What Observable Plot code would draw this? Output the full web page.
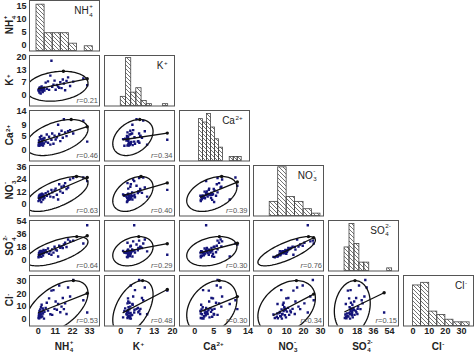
<!DOCTYPE html>
<html><head><meta charset="utf-8">
<script src="https://cdn.jsdelivr.net/npm/d3@7"></script>
<script src="https://cdn.jsdelivr.net/npm/@observablehq/plot@0.6"></script>
<style>
body{margin:0;background:#fff;font-family:"Liberation Sans",Arial,sans-serif}
#chart{position:relative;width:474px;height:354px;overflow:hidden;background:#fff}
.lab{position:absolute;white-space:nowrap;color:#222;line-height:1}
.ss{position:relative;display:inline-block;width:0.42em;height:0.7em}
.ss.w{width:0.72em}
.ss .u{position:absolute;left:0.5px;top:-0.58em;font-size:0.62em;line-height:1}
.ss .d{position:absolute;left:0.5px;top:0.75em;font-size:0.62em;line-height:1}
.sp{font-size:0.62em;position:relative;top:-0.55em;margin-left:0.5px}
.ttl{font-weight:bold;font-size:10px}
.dg{font-size:10px;color:#222}
.rl{font-size:7.5px;color:#555}
</style></head><body>
<svg width="0" height="0" style="position:absolute"><defs>
<pattern id="hatch" patternUnits="userSpaceOnUse" width="4" height="4">
<path d="M0,0 L4,4 M-1,3 L1,5 M3,-1 L5,1" stroke="#444" stroke-width="0.75" fill="none"/>
</pattern></defs></svg>
<div id="chart"></div>
<script>
// ---- sample values (one entry per sample) ----
const NH4 = [0.2,0.4,0.5,0.7,0.8,1.0,1.1,1.3,1.5,1.6,1.8,2.0,2.2,2.4,2.6,2.9,3.1,3.4,3.7,4.0,4.8,5.5,6.3,7.0,7.8,8.5,9.0,9.8,10.5,11.2,12.0,12.8,13.5,14.2,15.0,15.8,16.5,17.3,18.2,19.2,20.5,22.5,29.0,31.5];
const K   = [2.6,3.1,2.2,3.5,1.4,4.1,2.8,3.3,3.8,0.9,3.0,2.4,4.6,2.9,3.6,1.7,3.2,2.7,3.9,2.5,6.6,3.4,7.2,2.8,10.2,18.0,4.4,5.5,7.6,2.9,5.3,4.5,3.9,6.8,3.7,8.2,6.1,2.6,7.5,9.3,4.8,7.1,8.7,5.2];
const Ca  = [1.6,2.4,3.4,1.9,1.5,2.9,4.6,1.8,2.7,3.9,2.1,5.1,1.7,3.3,2.5,4.1,1.6,3.6,2.3,4.3,3.0,5.6,2.6,4.8,1.9,3.7,6.0,2.2,5.2,3.8,4.6,9.2,5.8,3.2,7.0,4.4,11.2,6.4,5.0,6.8,7.2,6.0,10.7,3.0];
const NO3 = [3.0,6.2,7.5,4.8,8.2,9.0,4.2,7.0,5.8,9.6,8.6,2.2,7.8,10.2,6.6,8.8,4.5,9.4,7.2,6.0,10.8,8.2,12.2,9.8,7.4,14.0,11.5,6.8,13.5,15.2,9.2,4.6,19.5,12.5,17.0,11.0,18.0,20.5,14.8,16.2,24.0,25.5,26.0,22.5];
const SO4 = [4.2,7.0,9.8,6.0,10.5,12.0,5.5,11.2,9.2,13.0,9.5,4.8,12.6,11.8,8.2,10.8,6.5,14.2,10.0,12.4,13.8,11.0,16.2,9.0,12.2,7.6,15.0,10.6,18.5,14.6,13.4,5.3,20.0,17.0,19.0,16.8,21.6,24.0,18.2,28.5,26.0,27.0,23.0,48.0];
const Cl  = [1.0,2.5,4.2,0.8,6.5,3.2,2.0,7.8,5.0,1.5,9.5,3.8,11.5,6.0,2.2,8.6,4.6,7.2,0.5,5.8,9.0,13.0,6.8,16.5,4.0,22.6,3.5,23.0,8.2,14.0,7.5,12.0,26.6,5.5,10.0,16.8,8.0,12.5,4.2,25.0,18.0,31.0,15.0,5.3];

// ---- correlation labels (row variable vs earlier columns) ----
const rK   = [0.21];
const rCa  = [0.46,0.34];
const rNO3 = [0.63,0.40,0.39];
const rSO4 = [0.64,0.29,0.30,0.76];
const rCl  = [0.53,0.48,0.30,0.34,0.15];

// ---- ellipse centre / half-extent per variable ----
const ellCenter = [12, 4.7, 4.5, 10, 12.5, 9.5];
const ellHalf   = [20, 7.8, 6.6, 17, 20, 21];

// ---- histograms: bin starts, bin widths, bar tops (count axis units) ----
const histStartNH4 = [-1.1,4.1,9.3,14.5,19.7,29.9], histTopNH4 = [15.4,4.5,4.5,4.5,0.5,-0.5];
const histStartK   = [0,2,4,6,8,10,16.3],          histTopK   = [1.2,16.0,2.8,4.5,-0.4,-1.6,-1.6];
const histStartCa  = [1.15,2.2,3.25,4.3,5.35,6.4,9.2,10.25,11.3], histTopCa = [13.7,12.4,15.7,10.5,6.0,2.8,-0.8,-0.8,-0.8];
const histStartNO3 = [0,5,10,15,20,25],            histTopNO3 = [3.1,16.3,5.0,3.1,0.3,-1.4];
const histStartSO4 = [3.9,9.4,14.9,20.4,25.9,51.4],histTopSO4 = [6.7,15.7,8.0,0.9,0.9,-1.3];
const histStartCl  = [0,5,10,15,20,25,30],         histTopCl  = [13.2,14.2,3.2,1.9,0.1,-0.9,-0.9];
const histWidth = [5.2,2.05,1.05,5,5.5,5];
const histTicks = [0,5,10,15];

// ---- axis ticks ----
const xTickNH4=[0,11,22,33], xTickK=[0,7,13,20], xTickCa=[0,5,9,14], xTickNO3=[0,10,20,30], xTickSO4=[0,18,36,54], xTickCl=[0,10,20,30];
const yTickK=[0,7,13,20], yTickCa=[0,5,9,14], yTickNO3=[0,12,24,36], yTickSO4=[0,18,36,54], yTickCl=[0,10,20,30];

const names = ["NH4","K","Ca","NO3","SO4","Cl"];
const labelsHTML = [
  'NH<span class="ss"><span class="u">+</span><span class="d">4</span></span>',
  'K<span class="sp">+</span>',
  'Ca<span class="sp">2+</span>',
  'NO<span class="ss"><span class="u">-</span><span class="d">3</span></span>',
  'SO<span class="ss w"><span class="u">2-</span><span class="d">4</span></span>',
  'Cl<span class="sp">-</span>'
];
const values = [NH4,K,Ca,NO3,SO4,Cl];
const rRows = [[],rK,rCa,rNO3,rSO4,rCl];
const hists = [[histStartNH4,histTopNH4],[histStartK,histTopK],[histStartCa,histTopCa],[histStartNO3,histTopNO3],[histStartSO4,histTopSO4],[histStartCl,histTopCl]];
const xTicks = [xTickNH4,xTickK,xTickCa,xTickNO3,xTickSO4,xTickCl];
const yTicks = [histTicks,yTickK,yTickCa,yTickNO3,yTickSO4,yTickCl];

// ---- layout (pixels / scale domains) ----
const colLeft = [29,103.5,178.5,253,328,403];
const rowTop  = [0,54.5,109.5,164.5,219.5,274.5];
const PW = 70, PH = 50.5;
const xDomain = [[-5.6,39.4],[-6.3,20.8],[-4.0,14.4],[-9.6,31.8],[-14,64],[-5.9,37.4]];
const yDomain = [[-2.3,17],[-5.6,20.7],[-4.1,14.4],[-11.5,37.7],[-14.6,54.5],[-5.3,34.5]];
const histDomain = [-2.3,17];

const samples = NH4.map((_,k)=>Object.fromEntries(names.map((n,v)=>[n,values[v][k]])));
const chart = document.getElementById("chart");

function addLabel(html, cls, style){
  const d = document.createElement("div");
  d.className = "lab " + cls;
  d.innerHTML = html;
  Object.assign(d.style, style);
  chart.appendChild(d);
  return d;
}

for (let i=0;i<6;i++){
  for (let j=0;j<=i;j++){
    const isLeft = j===0, isBottom = i===5;
    const ml = isLeft ? colLeft[0] : 1;
    const mb = isBottom ? 18 : 1;
    const marks = [];
    let ydom;
    if (i===j){
      ydom = histDomain;
      const [starts, tops] = hists[j];
      const bars = starts.map((s,k)=>({x1:s, x2:s+histWidth[j], top:tops[k]}));
      marks.push(Plot.rect(bars,{x1:"x1",x2:"x2",y1:histDomain[0],y2:"top",fill:"url(#hatch)",stroke:"#444",strokeWidth:0.8}));
    } else {
      ydom = yDomain[i];
      const xn = names[j], yn = names[i];
      const r = rRows[i][j];
      // regression line from the data
      const xs = values[j], ys = values[i];
      const mx = d3.mean(xs), my = d3.mean(ys);
      const slope = d3.sum(xs,(x,k)=>(x-mx)*(ys[k]-my)) / d3.sum(xs,x=>(x-mx)**2);
      const [xmin,xmax] = d3.extent(xs);
      const reg = [{x:xmin,y:my+slope*(xmin-mx)},{x:xmax,y:my+slope*(xmax-mx)}];
      // correlation ellipse starting at its top point
      const dphi = Math.acos(r);
      const ell = d3.range(0,97).map(k=>{
        const t = -dphi + k*2*Math.PI/96;
        return {x: ellCenter[j] + ellHalf[j]*Math.cos(t), y: ellCenter[i] + ellHalf[i]*Math.cos(t+dphi)};
      });
      marks.push(Plot.dot(samples,{x:xn,y:yn,symbol:"square",r:1.35,fill:"#14147a",stroke:"none",clip:true}));
      marks.push(Plot.line(ell,{x:"x",y:"y",stroke:"#111",strokeWidth:1.3,clip:true}));
      marks.push(Plot.line(reg,{x:"x",y:"y",stroke:"#111",strokeWidth:1.3,clip:true}));
      marks.push(Plot.dot([ell[0], reg[1]],{x:"x",y:"y",r:1.7,fill:"#111",stroke:"none",clip:true}));
    }
    marks.push(Plot.frame({stroke:"#555",strokeWidth:1}));
    const plot = Plot.plot({
      width: ml+PW+1, height: 1+PH+mb,
      marginLeft: ml, marginRight: 1, marginTop: 1, marginBottom: mb,
      x:{domain:xDomain[j], axis: isBottom ? "bottom" : null, ticks: xTicks[j], tickSize:0, tickPadding:2, label:null},
      y:{domain:ydom, axis: isLeft ? "left" : null, ticks: yTicks[i], tickSize:0, tickPadding:3, label:null},
      style:{fontFamily:"Liberation Sans, Arial, sans-serif", fontSize:"9px", fontWeight:"bold", color:"#222", background:"transparent", overflow:"visible"},
      marks
    });
    plot.style.position = "absolute";
    plot.style.left = (isLeft ? 0 : colLeft[j]-1) + "px";
    plot.style.top = (rowTop[i]-1) + "px";
    chart.appendChild(plot);

    const rightPx = 474 - (colLeft[j]+PW);
    if (i===j){
      addLabel(labelsHTML[j], "dg", {right:(rightPx+6)+"px", top:(rowTop[i]+6)+"px"});
    } else {
      addLabel('<i>r</i>=' + rRows[i][j].toFixed(2), "rl", {right:(rightPx+1)+"px", top:(rowTop[i]+PH-8.5)+"px"});
    }
  }
}
// axis titles
for (let k=0;k<6;k++){
  addLabel(labelsHTML[k], "ttl", {left:(colLeft[k]+PW/2)+"px", top:"346.5px", transform:"translate(-50%,-50%)"});
  addLabel(labelsHTML[k], "ttl", {left:"10px", top:(rowTop[k]+PH/2)+"px", transform:"translate(-50%,-50%) rotate(-90deg)"});
}
</script></body></html>
